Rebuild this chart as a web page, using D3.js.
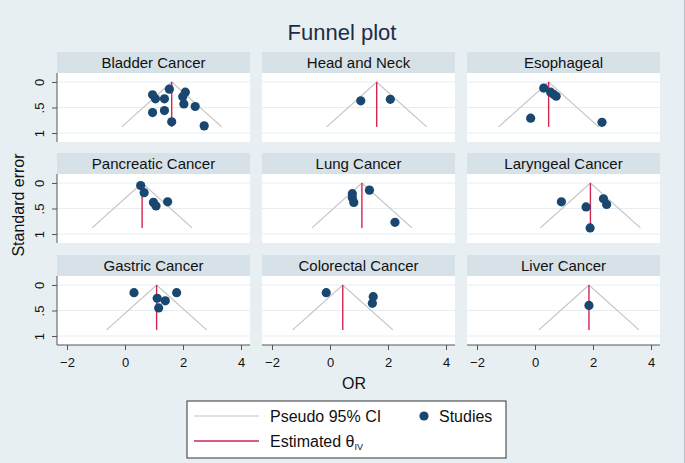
<!DOCTYPE html>
<meta charset="utf-8">
<style>
body { margin: 0; background: #e8eff2; }
svg { display: block; font-family: "Liberation Sans", Arial, sans-serif; }
</style>
<body>
<div id="chart"></div>
<script src="https://cdn.jsdelivr.net/npm/d3@7"></script>
<script>
// panel titles, in reading order
const panelNames = ["Bladder Cancer", "Head and Neck", "Esophageal",
                    "Pancreatic Cancer", "Lung Cancer", "Laryngeal Cancer",
                    "Gastric Cancer", "Colorectal Cancer", "Liver Cancer"];
// estimated theta (OR) per panel
const thetaIV = [1.61, 1.61, 0.47, 0.59, 1.10, 1.91, 1.09, 0.44, 1.86];
// studies: OR and standard error
const studyOR = [
  [1.53, 0.95, 1.05, 1.36, 2.08, 1.99, 2.03, 2.42, 0.95, 1.36, 1.61, 2.73],
  [1.06, 2.08],
  [0.30, 0.54, 0.64, 0.73, -0.15, 2.31],
  [0.54, 0.66, 0.98, 1.07, 1.47],
  [0.77, 0.77, 0.82, 1.36, 2.24],
  [0.91, 1.76, 2.36, 2.47, 1.90],
  [0.31, 1.78, 1.11, 1.39, 1.16],
  [-0.13, 1.49, 1.46],
  [1.86]
];
const studySE = [
  [0.14, 0.25, 0.33, 0.33, 0.20, 0.29, 0.43, 0.48, 0.60, 0.56, 0.78, 0.86],
  [0.37, 0.34],
  [0.12, 0.20, 0.24, 0.28, 0.71, 0.79],
  [0.05, 0.19, 0.38, 0.45, 0.37],
  [0.21, 0.29, 0.38, 0.14, 0.77],
  [0.37, 0.47, 0.31, 0.42, 0.88],
  [0.15, 0.15, 0.26, 0.31, 0.45],
  [0.15, 0.23, 0.36],
  [0.40]
];
const seMax = 0.88;
const xTicks = [-2, 0, 2, 4];
const yTicks = [0, 0.5, 1];
const yTickLabels = ["0", ".5", "1"];

const width = 685, height = 463;
const colLeft = [57, 262, 467], panelW = 193;
const rowTop = [52, 153, 255], headH = 21, plotH = 69;

const svg = d3.select("#chart").append("svg")
  .attr("width", width).attr("height", height);

svg.append("rect").attr("width", width).attr("height", height).attr("fill", "#e8eff2");
svg.append("line").attr("x1", width - 0.5).attr("x2", width - 0.5)
  .attr("y1", 0).attr("y2", height).attr("stroke", "#b8c2c8");

svg.append("text").attr("x", 342).attr("y", 40).attr("text-anchor", "middle")
  .attr("font-size", 22).attr("fill", "#1c2c48").text("Funnel plot");

panelNames.forEach(function(name, i) {
  const c = i % 3, r = Math.floor(i / 3);
  const x0 = colLeft[c], y0 = rowTop[r];
  const g = svg.append("g").attr("transform", "translate(" + x0 + "," + y0 + ")");

  // header strip
  g.append("rect").attr("width", panelW).attr("height", headH).attr("fill", "#d6e2e8");
  g.append("text").attr("x", panelW / 2).attr("y", headH / 2 + 5.5)
    .attr("text-anchor", "middle").attr("font-size", 15).attr("fill", "#111").text(name);

  const x = d3.scaleLinear().domain([-2.345, 4.31]).range([0, panelW]);
  const y = d3.scaleLinear().domain([-0.176, 1.176]).range([headH, headH + plotH]);

  g.append("rect").attr("y", headH).attr("width", panelW).attr("height", plotH).attr("fill", "#fff");

  // grid
  g.selectAll(".grid").data(yTicks).enter().append("line")
    .attr("x1", 0).attr("x2", panelW)
    .attr("y1", d => y(d)).attr("y2", d => y(d))
    .attr("stroke", "#e6eef2").attr("stroke-width", 1);

  // pseudo 95% CI
  const t = thetaIV[i];
  const funnel = [[t - 1.96 * seMax, seMax], [t, 0], [t + 1.96 * seMax, seMax]];
  g.append("path")
    .attr("d", d3.line().x(d => x(d[0])).y(d => y(d[1]))(funnel))
    .attr("fill", "none").attr("stroke", "#c4c4c4").attr("stroke-width", 1.2);

  // estimated theta
  g.append("line").attr("x1", x(t)).attr("x2", x(t))
    .attr("y1", y(0)).attr("y2", y(seMax))
    .attr("stroke", "#d1264f").attr("stroke-width", 1.4);

  // studies
  g.selectAll(".pt").data(studyOR[i]).enter().append("circle")
    .attr("cx", d => x(d)).attr("cy", (d, k) => y(studySE[i][k]))
    .attr("r", 4.6).attr("fill", "#1a476f");

  if (c === 0) {
    const ax = g.append("g").attr("class", "yax")
      .call(d3.axisLeft(y).tickValues(yTicks).tickSize(5).tickFormat((d, k) => yTickLabels[k]));
    ax.select(".domain").attr("d", "M0," + headH + "V" + (headH + plotH)).attr("stroke", "#555");
    ax.selectAll(".tick line").attr("stroke", "#555");
    ax.selectAll(".tick text")
      .attr("x", 0).attr("dy", 0)
      .attr("transform", "translate(-13,0) rotate(-90)")
      .attr("text-anchor", "middle")
      .attr("font-size", 13).attr("fill", "#111")
      .attr("font-family", "Liberation Sans, Arial, sans-serif");
  }
  if (r === 2) {
    const ax = g.append("g").attr("transform", "translate(0," + (headH + plotH) + ")")
      .call(d3.axisBottom(x).tickValues(xTicks).tickSize(5).tickFormat(d3.format("d")));
    ax.select(".domain").attr("d", "M0,0H" + panelW).attr("stroke", "#555");
    ax.selectAll(".tick line").attr("stroke", "#555");
    ax.selectAll(".tick text").attr("font-size", 13).attr("fill", "#111").attr("dy", "1.05em")
      .attr("font-family", "Liberation Sans, Arial, sans-serif");
  }
});

// axis titles
svg.append("text").attr("x", 354).attr("y", 389).attr("text-anchor", "middle")
  .attr("font-size", 16).attr("fill", "#111").text("OR");
svg.append("text").attr("transform", "translate(24,205) rotate(-90)")
  .attr("text-anchor", "middle").attr("font-size", 16).attr("fill", "#111").text("Standard error");

// legend
const lg = svg.append("g").attr("transform", "translate(187,401)");
lg.append("rect").attr("width", 319).attr("height", 57)
  .attr("fill", "#fff").attr("stroke", "#333").attr("stroke-width", 1);
lg.append("line").attr("x1", 7).attr("x2", 72).attr("y1", 15).attr("y2", 15)
  .attr("stroke", "#c4c4c4").attr("stroke-width", 1.2);
lg.append("text").attr("x", 83).attr("y", 21).attr("font-size", 16).attr("fill", "#111").text("Pseudo 95% CI");
lg.append("circle").attr("cx", 237).attr("cy", 15).attr("r", 4.6).attr("fill", "#1a476f");
lg.append("text").attr("x", 252).attr("y", 21).attr("font-size", 16).attr("fill", "#111").text("Studies");
lg.append("line").attr("x1", 7).attr("x2", 72).attr("y1", 40).attr("y2", 40)
  .attr("stroke", "#d1264f").attr("stroke-width", 1.4);
const est = lg.append("text").attr("x", 83).attr("y", 46).attr("font-size", 16).attr("fill", "#111");
est.append("tspan").text("Estimated θ");
est.append("tspan").attr("font-size", 9).attr("dy", 3).text("IV");
</script>
</body>
